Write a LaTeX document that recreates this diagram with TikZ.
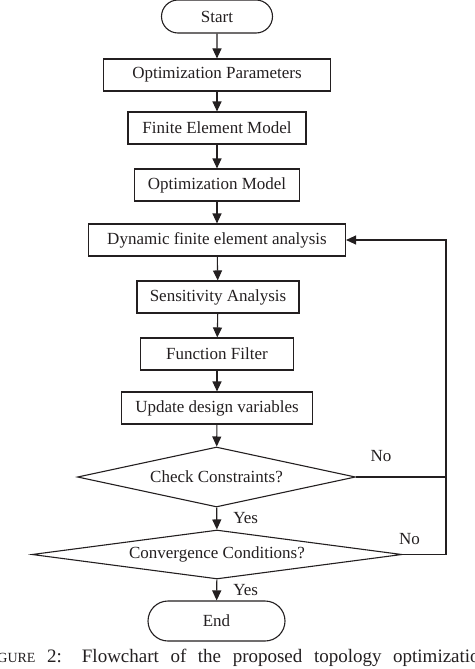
\documentclass[tikz,border=0pt]{standalone}
\usepackage{fontspec}
\setmainfont{Liberation Serif}
\usetikzlibrary{arrows.meta,shapes.geometric,shapes.misc}
\definecolor{ink}{RGB}{35,31,32}
\begin{document}
\begin{tikzpicture}[x=1pt,y=-1pt,
  font=\fontsize{17}{20}\selectfont,
  every node/.style={text=ink},
  box/.style={draw=ink, line width=1.1pt, rectangle, inner sep=0pt, minimum height=32pt},
  term/.style={draw=ink, line width=1.1pt, rounded rectangle, inner sep=0pt},
  dec/.style={draw=ink, line width=1.1pt, diamond, inner sep=0pt},
  flow/.style={draw=ink, line width=1.1pt, -{Triangle[length=10pt,width=9pt]}},
  line/.style={draw=ink, line width=1.1pt},
  lbl/.style={inner sep=0pt}]
\useasboundingbox (0,0) rectangle (474,669);

\node[term, minimum width=111pt, minimum height=33pt] (start) at (217,16.5) {Start};
\node[box, minimum width=227pt] (p1) at (217,75) {Optimization Parameters};
\node[box, minimum width=178pt] (p2) at (217,128) {Finite Element Model};
\node[box, minimum width=165pt] (p3) at (217,185) {Optimization Model};
\node[box, minimum width=257pt] (dyn) at (217,240) {Dynamic finite element analysis};
\node[box, minimum width=162pt] (p5) at (218,297) {Sensitivity Analysis};
\node[box, minimum width=153pt] (p6) at (217,354) {Function Filter};
\node[box, minimum width=191pt] (p7) at (217,408) {Update design variables};
\node[dec, aspect=4.6, minimum width=278pt, minimum height=60pt] (chk) at (216.5,477) {Check Constraints?};
\node[dec, aspect=7.5, minimum width=370pt, minimum height=49pt] (conv) at (217,554.5) {Convergence Conditions?};
\node[term, minimum width=137pt, minimum height=40pt] (end) at (216.5,621) {End};

\coordinate (lp) at (446,240);

\draw[flow] (start) -- (p1);
\draw[flow] (p1) -- (p2);
\draw[flow] (p2) -- (p3);
\draw[flow] (p3) -- (dyn);
\draw[flow] (dyn) -- (p5);
\draw[flow] (p5) -- (p6);
\draw[flow] (p6) -- (p7);
\draw[flow] (p7) -- (chk);
\draw[flow] (chk) -- node[lbl, midway, anchor=west, xshift=16pt] {Yes} (conv);
\draw[flow] (conv) -- node[lbl, midway, anchor=west, xshift=16pt] {Yes} (end);
\draw[flow] (chk.east) -- node[lbl, pos=0, anchor=south west, xshift=14pt, yshift=15pt] {No} (chk.east -| lp) -- (lp) -- (dyn.east);
\draw[line] (conv.east) -- node[lbl, pos=0, anchor=south west, xshift=-4pt, yshift=9pt] {No} (conv.east -| lp) -- (chk.east -| lp);

\node[anchor=base west, inner sep=0pt, font=\fontsize{19}{22}\selectfont] (cap) at (-18,662)
  {\makebox[507pt][s]{F{\fontsize{14}{16}\selectfont IGURE} 2: Flowchart of the proposed topology optimization}};
\end{tikzpicture}
\end{document}
